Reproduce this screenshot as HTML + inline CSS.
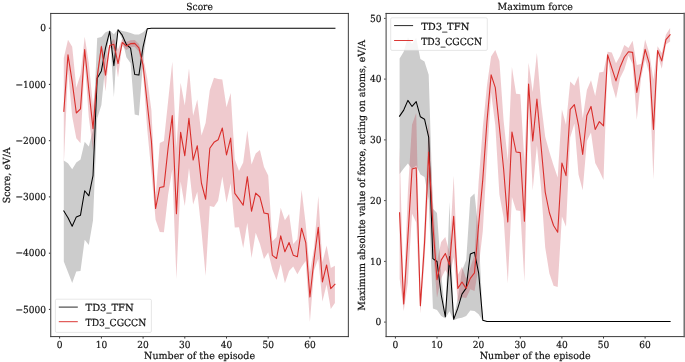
<!DOCTYPE html>
<html><head><meta charset="utf-8"><title>Score and Maximum force</title>
<style>html,body{margin:0;padding:0;background:#fff}svg{display:block}text{text-rendering:geometricPrecision;font-family:"DejaVu Serif","Liberation Serif",serif;font-size:9.8px;fill:#141414;stroke:#141414;stroke-width:0.2px}</style></head><body>
<svg width="685" height="362" viewBox="0 0 685 362">
<rect width="685" height="362" fill="#fff"/>
<clipPath id="cl"><rect x="50.8" y="13.4" width="297.6" height="323.2"/></clipPath>
<g clip-path="url(#cl)">
<polygon points="63.8,160.4 68.0,163.2 72.2,169.2 76.3,162.4 80.5,159.5 84.7,141.8 88.8,146.6 93.0,130.6 97.2,38.1 101.4,36.9 105.5,32.2 109.7,30.5 113.9,34.3 118.0,29.3 122.2,31.1 126.4,31.7 130.6,32.9 134.7,34.6 138.9,34.6 143.1,32.2 147.2,28.2 151.4,28.3 155.6,28.3 159.8,28.3 163.9,28.3 168.1,28.3 172.3,28.3 176.4,28.3 180.6,28.3 184.8,28.3 189.0,28.3 193.1,28.3 197.3,28.3 201.5,28.3 205.6,28.3 209.8,28.3 214.0,28.3 218.1,28.3 222.3,28.3 226.5,28.3 230.7,28.3 234.8,28.3 239.0,28.3 243.2,28.3 247.3,28.3 251.5,28.3 255.7,28.3 259.9,28.3 264.0,28.3 268.2,28.3 272.4,28.3 276.5,28.3 280.7,28.3 284.9,28.3 289.1,28.3 293.2,28.3 297.4,28.3 301.6,28.3 305.7,28.3 309.9,28.3 314.1,28.3 318.3,28.3 322.4,28.3 326.6,28.3 330.8,28.3 334.9,28.3 334.9,28.3 330.8,28.3 326.6,28.3 322.4,28.3 318.3,28.3 314.1,28.3 309.9,28.3 305.7,28.3 301.6,28.3 297.4,28.3 293.2,28.3 289.1,28.3 284.9,28.3 280.7,28.3 276.5,28.3 272.4,28.3 268.2,28.3 264.0,28.3 259.9,28.3 255.7,28.3 251.5,28.3 247.3,28.3 243.2,28.3 239.0,28.3 234.8,28.3 230.7,28.3 226.5,28.3 222.3,28.3 218.1,28.3 214.0,28.3 209.8,28.3 205.6,28.3 201.5,28.3 197.3,28.3 193.1,28.3 189.0,28.3 184.8,28.3 180.6,28.3 176.4,28.3 172.3,28.3 168.1,28.3 163.9,28.3 159.8,28.3 155.6,28.3 151.4,28.3 147.2,29.3 143.1,61.3 138.9,115.6 134.7,114.5 130.6,63.2 126.4,57.3 122.2,39.2 118.0,30.1 113.9,97.3 109.7,32.1 105.5,63.5 101.4,105.0 97.2,118.4 93.0,220.5 88.8,245.0 84.7,239.7 80.5,270.9 76.3,271.4 72.2,283.1 68.0,272.3 63.8,261.6" fill="#000" fill-opacity="0.2"/>
<polygon points="63.8,57.9 68.0,39.7 72.2,46.8 76.3,87.7 80.5,74.6 84.7,36.7 88.8,63.1 93.0,106.1 97.2,71.4 101.4,44.3 105.5,58.8 109.7,43.2 113.9,38.9 118.0,49.5 122.2,39.0 126.4,42.1 130.6,40.2 134.7,40.0 138.9,43.9 143.1,56.8 147.2,78.3 151.4,110.3 155.6,197.3 159.8,143.0 163.9,141.1 168.1,101.3 172.3,61.7 176.4,148.2 180.6,82.8 184.8,105.5 189.0,68.4 193.1,115.7 197.3,99.6 201.5,135.4 205.6,122.9 209.8,90.3 214.0,77.7 218.1,78.9 222.3,79.4 226.5,107.2 230.7,92.9 234.8,159.2 239.0,171.0 243.2,162.4 247.3,130.5 251.5,164.6 255.7,153.5 259.9,150.1 264.0,167.0 268.2,175.4 272.4,241.3 276.5,237.1 280.7,207.7 284.9,220.3 289.1,214.0 293.2,243.9 297.4,239.2 301.6,189.7 305.7,224.0 309.9,272.3 314.1,247.8 318.3,195.9 322.4,262.2 326.6,245.6 330.8,268.1 334.9,265.8 334.9,302.9 330.8,309.1 326.6,284.4 322.4,301.5 318.3,258.8 314.1,270.3 309.9,321.8 305.7,261.1 301.6,266.7 297.4,274.2 293.2,266.4 289.1,271.0 284.9,283.3 280.7,263.9 276.5,279.9 272.4,269.5 268.2,252.3 264.0,259.0 259.9,243.8 255.7,232.7 251.5,257.9 247.3,222.8 243.2,247.9 239.0,227.3 234.8,227.6 230.7,183.3 226.5,202.8 222.3,176.6 218.1,200.7 214.0,206.9 209.8,206.1 205.6,275.7 201.5,231.1 197.3,191.7 193.1,204.4 189.0,168.0 184.8,206.1 180.6,181.6 176.4,279.0 172.3,169.6 168.1,194.7 163.9,232.2 159.8,231.9 155.6,219.8 151.4,172.2 147.2,128.9 143.1,73.6 138.9,51.8 134.7,46.8 130.6,47.2 126.4,50.0 122.2,46.1 118.0,77.6 113.9,49.6 109.7,47.7 105.5,91.4 101.4,48.8 97.2,82.6 93.0,151.1 88.8,117.1 84.7,62.3 80.5,143.2 76.3,138.3 72.2,116.5 68.0,70.1 63.8,164.8" fill="#c02a3c" fill-opacity="0.25"/>
<polyline points="63.82,210.98 67.99,217.73 72.16,226.16 76.33,216.89 80.50,215.20 84.68,190.73 88.85,195.80 93.02,175.55 97.19,78.25 101.36,70.94 105.53,47.88 109.70,31.29 113.87,65.77 118.04,29.72 122.22,35.17 126.39,44.51 130.56,48.05 134.73,74.54 138.90,75.10 143.07,46.76 147.24,28.76 151.41,28.30 334.94,28.30" fill="none" stroke="#000" stroke-width="1.05" stroke-linejoin="round" stroke-linecap="square"/>
<polyline points="63.82,111.32 67.99,54.91 72.16,81.63 76.33,113.01 80.50,108.90 84.68,49.51 88.85,90.06 93.02,128.59 97.19,77.02 101.36,46.59 105.53,75.10 109.70,45.41 113.87,44.28 118.04,63.57 122.22,42.54 126.39,46.03 130.56,43.67 134.73,43.38 138.90,47.88 143.07,65.21 147.24,103.56 151.41,141.24 155.58,208.56 159.75,187.47 163.93,186.63 168.10,147.99 172.27,115.65 176.44,213.62 180.61,132.19 184.78,155.81 188.95,118.18 193.12,160.03 197.29,145.69 201.46,183.25 205.64,199.28 209.81,148.22 213.98,142.31 218.15,139.78 222.32,127.97 226.49,154.96 230.66,138.09 234.83,193.38 239.00,199.17 243.17,205.19 247.35,176.67 251.52,211.26 255.69,193.10 259.86,196.98 264.03,213.00 268.20,213.85 272.37,255.41 276.54,258.50 280.71,235.78 284.88,251.81 289.06,242.53 293.23,255.18 297.40,256.70 301.57,228.19 305.74,242.53 309.91,297.03 314.08,259.07 318.25,227.35 322.42,281.84 326.59,264.97 330.76,288.59 334.94,284.37" fill="none" stroke="#d92e2b" stroke-width="1.1" stroke-linejoin="round" stroke-linecap="square"/>
</g>
<rect x="55.4" y="299.2" width="96.0" height="33.2" rx="1.3" fill="#fff" fill-opacity="0.8" stroke="#ccc" stroke-opacity="0.8" stroke-width="0.6"/>
<line x1="58.8" x2="77.8" y1="307.1" y2="307.1" stroke="#111" stroke-width="0.9"/>
<line x1="58.8" x2="77.8" y1="321.7" y2="321.7" stroke="#d92e2b" stroke-width="0.95"/>
<text x="85.5" y="311.2" textLength="48.2" lengthAdjust="spacingAndGlyphs">TD3_TFN</text>
<text x="85.5" y="325.6" textLength="60.8" lengthAdjust="spacingAndGlyphs">TD3_CGCCN</text>
<line x1="50.75" x2="348.35" y1="13.45" y2="13.45" stroke="#3c3c3c" stroke-width="1.0" stroke-linecap="square"/>
<line x1="50.75" x2="348.35" y1="336.60" y2="336.60" stroke="#3c3c3c" stroke-width="1.0" stroke-linecap="square"/>
<line x1="50.75" x2="50.75" y1="13.45" y2="336.60" stroke="#3c3c3c" stroke-width="1.0" stroke-linecap="square"/>
<line x1="348.35" x2="348.35" y1="13.45" y2="336.60" stroke="#3c3c3c" stroke-width="1.0" stroke-linecap="square"/>
<line x1="59.6" x2="59.6" y1="337.1" y2="338.5" stroke="#2a2a2a" stroke-width="1.0"/>
<text x="59.6" y="347.7" text-anchor="middle" textLength="5.8" lengthAdjust="spacingAndGlyphs">0</text>
<line x1="101.4" x2="101.4" y1="337.1" y2="338.5" stroke="#2a2a2a" stroke-width="1.0"/>
<text x="101.4" y="347.7" text-anchor="middle" textLength="11.5" lengthAdjust="spacingAndGlyphs">10</text>
<line x1="143.1" x2="143.1" y1="337.1" y2="338.5" stroke="#2a2a2a" stroke-width="1.0"/>
<text x="143.1" y="347.7" text-anchor="middle" textLength="11.5" lengthAdjust="spacingAndGlyphs">20</text>
<line x1="184.8" x2="184.8" y1="337.1" y2="338.5" stroke="#2a2a2a" stroke-width="1.0"/>
<text x="184.8" y="347.7" text-anchor="middle" textLength="11.5" lengthAdjust="spacingAndGlyphs">30</text>
<line x1="226.5" x2="226.5" y1="337.1" y2="338.5" stroke="#2a2a2a" stroke-width="1.0"/>
<text x="226.5" y="347.7" text-anchor="middle" textLength="11.5" lengthAdjust="spacingAndGlyphs">40</text>
<line x1="268.2" x2="268.2" y1="337.1" y2="338.5" stroke="#2a2a2a" stroke-width="1.0"/>
<text x="268.2" y="347.7" text-anchor="middle" textLength="11.5" lengthAdjust="spacingAndGlyphs">50</text>
<line x1="309.9" x2="309.9" y1="337.1" y2="338.5" stroke="#2a2a2a" stroke-width="1.0"/>
<text x="309.9" y="347.7" text-anchor="middle" textLength="11.5" lengthAdjust="spacingAndGlyphs">60</text>
<line x1="48.9" x2="50.2" y1="309.4" y2="309.4" stroke="#2a2a2a" stroke-width="1.0"/>
<text x="46.0" y="312.6" text-anchor="end" textLength="30.6" lengthAdjust="spacingAndGlyphs">−5000</text>
<line x1="48.9" x2="50.2" y1="253.2" y2="253.2" stroke="#2a2a2a" stroke-width="1.0"/>
<text x="46.0" y="256.4" text-anchor="end" textLength="30.6" lengthAdjust="spacingAndGlyphs">−4000</text>
<line x1="48.9" x2="50.2" y1="196.9" y2="196.9" stroke="#2a2a2a" stroke-width="1.0"/>
<text x="46.0" y="200.1" text-anchor="end" textLength="30.6" lengthAdjust="spacingAndGlyphs">−3000</text>
<line x1="48.9" x2="50.2" y1="140.7" y2="140.7" stroke="#2a2a2a" stroke-width="1.0"/>
<text x="46.0" y="143.9" text-anchor="end" textLength="30.6" lengthAdjust="spacingAndGlyphs">−2000</text>
<line x1="48.9" x2="50.2" y1="84.4" y2="84.4" stroke="#2a2a2a" stroke-width="1.0"/>
<text x="46.0" y="87.6" text-anchor="end" textLength="30.6" lengthAdjust="spacingAndGlyphs">−1000</text>
<line x1="48.9" x2="50.2" y1="28.2" y2="28.2" stroke="#2a2a2a" stroke-width="1.0"/>
<text x="46.0" y="31.4" text-anchor="end" textLength="5.8" lengthAdjust="spacingAndGlyphs">0</text>
<text x="199.6" y="9.8" text-anchor="middle" textLength="26.5" lengthAdjust="spacingAndGlyphs">Score</text>
<text x="199.6" y="358.8" text-anchor="middle" textLength="111.0" lengthAdjust="spacingAndGlyphs">Number of the episode</text>
<text transform="translate(10.2,175.3) rotate(-90)" text-anchor="middle" textLength="55.8" lengthAdjust="spacingAndGlyphs">Score, eV/A</text>
<clipPath id="cr"><rect x="386.1" y="13.4" width="298.1" height="323.2"/></clipPath>
<g clip-path="url(#cr)">
<polygon points="399.6,58.4 403.7,51.8 407.9,37.2 412.0,43.9 416.2,37.8 420.4,59.1 424.5,61.5 428.7,74.8 432.9,208.8 437.0,212.9 441.2,273.5 445.3,315.0 449.5,201.8 453.7,318.4 457.8,297.8 462.0,270.5 466.2,260.1 470.3,197.6 474.5,193.6 478.6,231.6 482.8,319.7 487.0,321.6 491.1,321.6 495.3,321.6 499.4,321.6 503.6,321.6 507.8,321.6 511.9,321.6 516.1,321.6 520.3,321.6 524.4,321.6 528.6,321.6 532.7,321.6 536.9,321.6 541.1,321.6 545.2,321.6 549.4,321.6 553.6,321.6 557.7,321.6 561.9,321.6 566.0,321.6 570.2,321.6 574.4,321.6 578.5,321.6 582.7,321.6 586.9,321.6 591.0,321.6 595.2,321.6 599.3,321.6 603.5,321.6 607.7,321.6 611.8,321.6 616.0,321.6 620.1,321.6 624.3,321.6 628.5,321.6 632.6,321.6 636.8,321.6 641.0,321.6 645.1,321.6 649.3,321.6 653.4,321.6 657.6,321.6 661.8,321.6 665.9,321.6 670.1,321.6 670.1,321.6 665.9,321.6 661.8,321.6 657.6,321.6 653.4,321.6 649.3,321.6 645.1,321.6 641.0,321.6 636.8,321.6 632.6,321.6 628.5,321.6 624.3,321.6 620.1,321.6 616.0,321.6 611.8,321.6 607.7,321.6 603.5,321.6 599.3,321.6 595.2,321.6 591.0,321.6 586.9,321.6 582.7,321.6 578.5,321.6 574.4,321.6 570.2,321.6 566.0,321.6 561.9,321.6 557.7,321.6 553.6,321.6 549.4,321.6 545.2,321.6 541.1,321.6 536.9,321.6 532.7,321.6 528.6,321.6 524.4,321.6 520.3,321.6 516.1,321.6 511.9,321.6 507.8,321.6 503.6,321.6 499.4,321.6 495.3,321.6 491.1,321.6 487.0,321.6 482.8,320.9 478.6,314.2 474.5,310.9 470.3,310.6 466.2,316.0 462.0,317.8 457.8,318.5 453.7,320.2 449.5,311.2 445.3,318.6 441.2,316.0 437.0,310.1 432.9,308.4 428.7,200.0 424.5,176.9 420.4,174.5 416.2,165.4 412.0,169.0 407.9,163.5 403.7,168.4 399.6,173.9" fill="#000" fill-opacity="0.2"/>
<polygon points="399.6,147.1 403.7,296.9 407.9,191.5 412.0,124.7 416.2,113.1 420.4,297.8 424.5,224.9 428.7,122.8 432.9,200.6 437.0,261.4 441.2,241.9 445.3,237.1 449.5,252.8 453.7,175.7 457.8,275.0 462.0,266.8 466.2,278.7 470.3,267.4 474.5,254.7 478.6,182.4 482.8,127.7 487.0,85.2 491.1,56.6 495.3,49.9 499.4,60.9 503.6,120.4 507.8,160.5 511.9,67.0 516.1,93.7 520.3,94.3 524.4,161.1 528.6,62.7 532.7,91.9 536.9,53.0 541.1,103.4 545.2,136.8 549.4,152.0 553.6,165.4 557.7,177.5 561.9,109.5 566.0,124.7 570.2,81.5 574.4,85.8 578.5,76.1 582.7,118.6 586.9,90.0 591.0,80.3 595.2,96.1 599.3,72.4 603.5,71.8 607.7,51.8 611.8,52.4 616.0,63.3 620.1,56.0 624.3,45.1 628.5,48.1 632.6,40.8 636.8,65.1 641.0,63.9 645.1,39.6 649.3,53.0 653.4,79.7 657.6,46.3 661.8,53.0 665.9,34.8 670.1,28.1 670.1,41.4 665.9,44.5 661.8,68.8 657.6,54.8 653.4,179.3 649.3,73.6 645.1,59.1 641.0,78.5 636.8,119.8 632.6,63.9 628.5,55.4 624.3,69.4 620.1,77.9 616.0,98.5 611.8,84.0 607.7,57.8 603.5,179.9 599.3,170.8 595.2,162.9 591.0,132.6 586.9,141.1 582.7,190.3 578.5,174.5 574.4,123.4 570.2,137.4 566.0,226.7 561.9,216.4 557.7,286.9 553.6,285.7 549.4,273.5 545.2,247.4 541.1,188.5 536.9,145.3 532.7,190.3 528.6,105.2 524.4,281.4 520.3,210.9 516.1,210.3 511.9,197.0 507.8,283.2 503.6,217.6 499.4,194.5 495.3,125.3 491.1,93.1 487.0,158.1 482.8,231.0 478.6,267.4 474.5,291.1 470.3,289.3 466.2,298.1 462.0,297.2 457.8,301.7 453.7,257.1 449.5,277.1 445.3,269.9 441.2,278.4 437.0,297.8 432.9,249.2 428.7,181.2 424.5,261.4 420.4,313.6 416.2,222.5 412.0,213.4 407.9,282.6 403.7,310.9 399.6,278.4" fill="#c02a3c" fill-opacity="0.25"/>
<polyline points="399.56,116.16 403.72,110.08 407.89,100.36 412.05,106.44 416.21,101.58 420.37,116.77 424.53,119.20 428.70,137.42 432.86,258.62 437.02,261.53 441.18,294.76 445.34,316.81 449.51,256.49 453.67,319.31 457.83,308.13 461.99,294.16 466.15,288.08 470.32,254.06 474.48,252.24 478.64,272.89 482.80,320.28 486.96,321.55 670.09,321.55" fill="none" stroke="#000" stroke-width="1.05" stroke-linejoin="round" stroke-linecap="square"/>
<polyline points="399.56,212.75 403.72,303.88 407.89,237.05 412.05,169.01 416.21,167.80 420.37,305.70 424.53,243.12 428.70,152.00 432.86,224.90 437.02,279.58 441.18,260.14 445.34,253.45 449.51,265.00 453.67,216.40 457.83,288.38 461.99,282.00 466.15,288.38 470.32,278.36 474.48,272.89 478.64,224.90 482.80,179.34 486.96,121.63 491.13,74.85 495.29,87.61 499.45,127.70 503.61,169.01 507.77,221.86 511.94,131.95 516.10,152.00 520.26,152.61 524.42,221.25 528.58,83.96 532.75,141.07 536.91,99.15 541.07,145.93 545.23,192.10 549.39,212.75 553.56,225.51 557.72,232.19 561.88,162.94 566.04,175.69 570.20,109.48 574.37,104.62 578.53,125.27 582.69,154.43 586.85,115.55 591.01,106.44 595.18,129.52 599.34,121.63 603.50,125.88 607.66,54.80 611.82,68.17 615.99,80.92 620.15,66.95 624.31,57.23 628.47,51.76 632.63,52.37 636.80,92.47 640.96,71.20 645.12,49.33 649.28,63.31 653.44,129.52 657.61,50.55 661.77,60.88 665.93,39.61 670.09,34.75" fill="none" stroke="#d92e2b" stroke-width="1.1" stroke-linejoin="round" stroke-linecap="square"/>
</g>
<rect x="390.7" y="17.8" width="96.6" height="32.6" rx="1.3" fill="#fff" fill-opacity="0.8" stroke="#ccc" stroke-opacity="0.8" stroke-width="0.6"/>
<line x1="394.1" x2="413.1" y1="25.6" y2="25.6" stroke="#111" stroke-width="0.9"/>
<line x1="394.1" x2="413.1" y1="40.5" y2="40.5" stroke="#d92e2b" stroke-width="0.95"/>
<text x="421.2" y="29.9" textLength="48.2" lengthAdjust="spacingAndGlyphs">TD3_TFN</text>
<text x="421.2" y="44.5" textLength="60.8" lengthAdjust="spacingAndGlyphs">TD3_CGCCN</text>
<line x1="386.10" x2="684.20" y1="13.45" y2="13.45" stroke="#3c3c3c" stroke-width="1.0" stroke-linecap="square"/>
<line x1="386.10" x2="684.20" y1="336.60" y2="336.60" stroke="#3c3c3c" stroke-width="1.0" stroke-linecap="square"/>
<line x1="386.10" x2="386.10" y1="13.45" y2="336.60" stroke="#3c3c3c" stroke-width="1.0" stroke-linecap="square"/>
<line x1="684.20" x2="684.20" y1="13.45" y2="336.60" stroke="#5a5a5a" stroke-width="1.3" stroke-linecap="square"/>
<line x1="395.4" x2="395.4" y1="337.1" y2="338.5" stroke="#2a2a2a" stroke-width="1.0"/>
<text x="395.4" y="347.7" text-anchor="middle" textLength="5.8" lengthAdjust="spacingAndGlyphs">0</text>
<line x1="437.0" x2="437.0" y1="337.1" y2="338.5" stroke="#2a2a2a" stroke-width="1.0"/>
<text x="437.0" y="347.7" text-anchor="middle" textLength="11.5" lengthAdjust="spacingAndGlyphs">10</text>
<line x1="478.6" x2="478.6" y1="337.1" y2="338.5" stroke="#2a2a2a" stroke-width="1.0"/>
<text x="478.6" y="347.7" text-anchor="middle" textLength="11.5" lengthAdjust="spacingAndGlyphs">20</text>
<line x1="520.3" x2="520.3" y1="337.1" y2="338.5" stroke="#2a2a2a" stroke-width="1.0"/>
<text x="520.3" y="347.7" text-anchor="middle" textLength="11.5" lengthAdjust="spacingAndGlyphs">30</text>
<line x1="561.9" x2="561.9" y1="337.1" y2="338.5" stroke="#2a2a2a" stroke-width="1.0"/>
<text x="561.9" y="347.7" text-anchor="middle" textLength="11.5" lengthAdjust="spacingAndGlyphs">40</text>
<line x1="603.5" x2="603.5" y1="337.1" y2="338.5" stroke="#2a2a2a" stroke-width="1.0"/>
<text x="603.5" y="347.7" text-anchor="middle" textLength="11.5" lengthAdjust="spacingAndGlyphs">50</text>
<line x1="645.1" x2="645.1" y1="337.1" y2="338.5" stroke="#2a2a2a" stroke-width="1.0"/>
<text x="645.1" y="347.7" text-anchor="middle" textLength="11.5" lengthAdjust="spacingAndGlyphs">60</text>
<line x1="384.2" x2="385.6" y1="322.1" y2="322.1" stroke="#2a2a2a" stroke-width="1.0"/>
<text x="381.4" y="325.3" text-anchor="end" textLength="5.8" lengthAdjust="spacingAndGlyphs">0</text>
<line x1="384.2" x2="385.6" y1="261.4" y2="261.4" stroke="#2a2a2a" stroke-width="1.0"/>
<text x="381.4" y="264.6" text-anchor="end" textLength="11.5" lengthAdjust="spacingAndGlyphs">10</text>
<line x1="384.2" x2="385.6" y1="200.6" y2="200.6" stroke="#2a2a2a" stroke-width="1.0"/>
<text x="381.4" y="203.8" text-anchor="end" textLength="11.5" lengthAdjust="spacingAndGlyphs">20</text>
<line x1="384.2" x2="385.6" y1="139.9" y2="139.9" stroke="#2a2a2a" stroke-width="1.0"/>
<text x="381.4" y="143.1" text-anchor="end" textLength="11.5" lengthAdjust="spacingAndGlyphs">30</text>
<line x1="384.2" x2="385.6" y1="79.1" y2="79.1" stroke="#2a2a2a" stroke-width="1.0"/>
<text x="381.4" y="82.3" text-anchor="end" textLength="11.5" lengthAdjust="spacingAndGlyphs">40</text>
<line x1="384.2" x2="385.6" y1="18.4" y2="18.4" stroke="#2a2a2a" stroke-width="1.0"/>
<text x="381.4" y="21.6" text-anchor="end" textLength="11.5" lengthAdjust="spacingAndGlyphs">50</text>
<text x="535.2" y="9.8" text-anchor="middle" textLength="75.2" lengthAdjust="spacingAndGlyphs">Maximum force</text>
<text x="535.2" y="358.8" text-anchor="middle" textLength="111.0" lengthAdjust="spacingAndGlyphs">Number of the episode</text>
<text transform="translate(365.3,175.3) rotate(-90)" text-anchor="middle" textLength="271.0" lengthAdjust="spacingAndGlyphs">Maximum absolute value of force, acting on atoms, eV/A</text>
</svg></body></html>
